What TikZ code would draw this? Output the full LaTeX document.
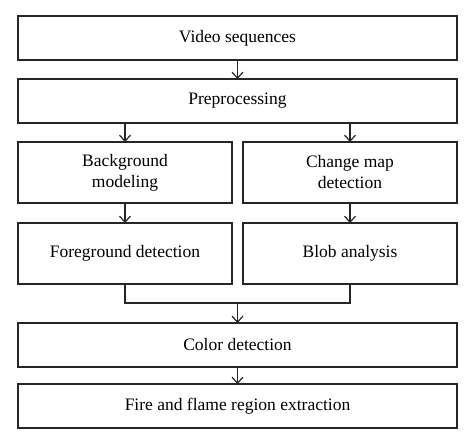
\documentclass[tikz,border=0pt]{standalone}
\usepackage{fontspec}
\setmainfont{Liberation Serif}
\usetikzlibrary{arrows.meta,positioning}

\begin{document}
\begin{tikzpicture}[
  x=1pt, y=-1pt,
  node distance=19pt and 0pt,
  every node/.style={font=\fontsize{17.5}{21}\selectfont, outer sep=0pt},
  wide/.style={draw=black!85, line width=1.2pt, minimum width=439pt, minimum height=44pt, align=center, inner sep=0pt},
  half/.style={draw=black!85, line width=1.2pt, minimum width=214pt, minimum height=61pt, align=center, inner sep=0pt},
  arrow/.style={-{Straight Barb[length=6pt,width=11pt]}, draw=black!85, line width=1.2pt},
  link/.style={draw=black!85, line width=1.2pt}
]
\useasboundingbox (0,0) rectangle (474,445);
% ---------- Top row ----------
\node[wide] (video) at (237.5,38) {Video sequences};
\node[wide, below=of video] (prep) {Preprocessing};

% ---------- Two branches ----------
\node[half, below right=of prep.south west] (bgmodel) {Background\\modeling};
\node[half, below left=of prep.south east] (chmap) {Change map\\detection};
\node[half, below=20pt of bgmodel] (fgdet) {Foreground detection};
\node[half, below=20pt of chmap] (blob) {Blob analysis};

% ---------- Merge and bottom row ----------
\coordinate[below=19pt of fgdet.south] (merge);
\node[wide, below=39pt of fgdet.south -| prep.south, anchor=north] (color) {Color detection};
\node[wide, below=17pt of color] (fire) {Fire and flame region extraction};

% ---------- Edges ----------
\draw[arrow] (video) -- (prep);
\draw[arrow] (prep.south -| bgmodel) -- (bgmodel);
\draw[arrow] (prep.south -| chmap) -- (chmap);
\draw[arrow] (bgmodel) -- (fgdet);
\draw[arrow] (chmap) -- (blob);
\draw[link] (fgdet) -- (merge) -| (blob);
\draw[arrow] (merge -| color) -- (color);
\draw[arrow] (color) -- (fire);
\end{tikzpicture}
\end{document}
